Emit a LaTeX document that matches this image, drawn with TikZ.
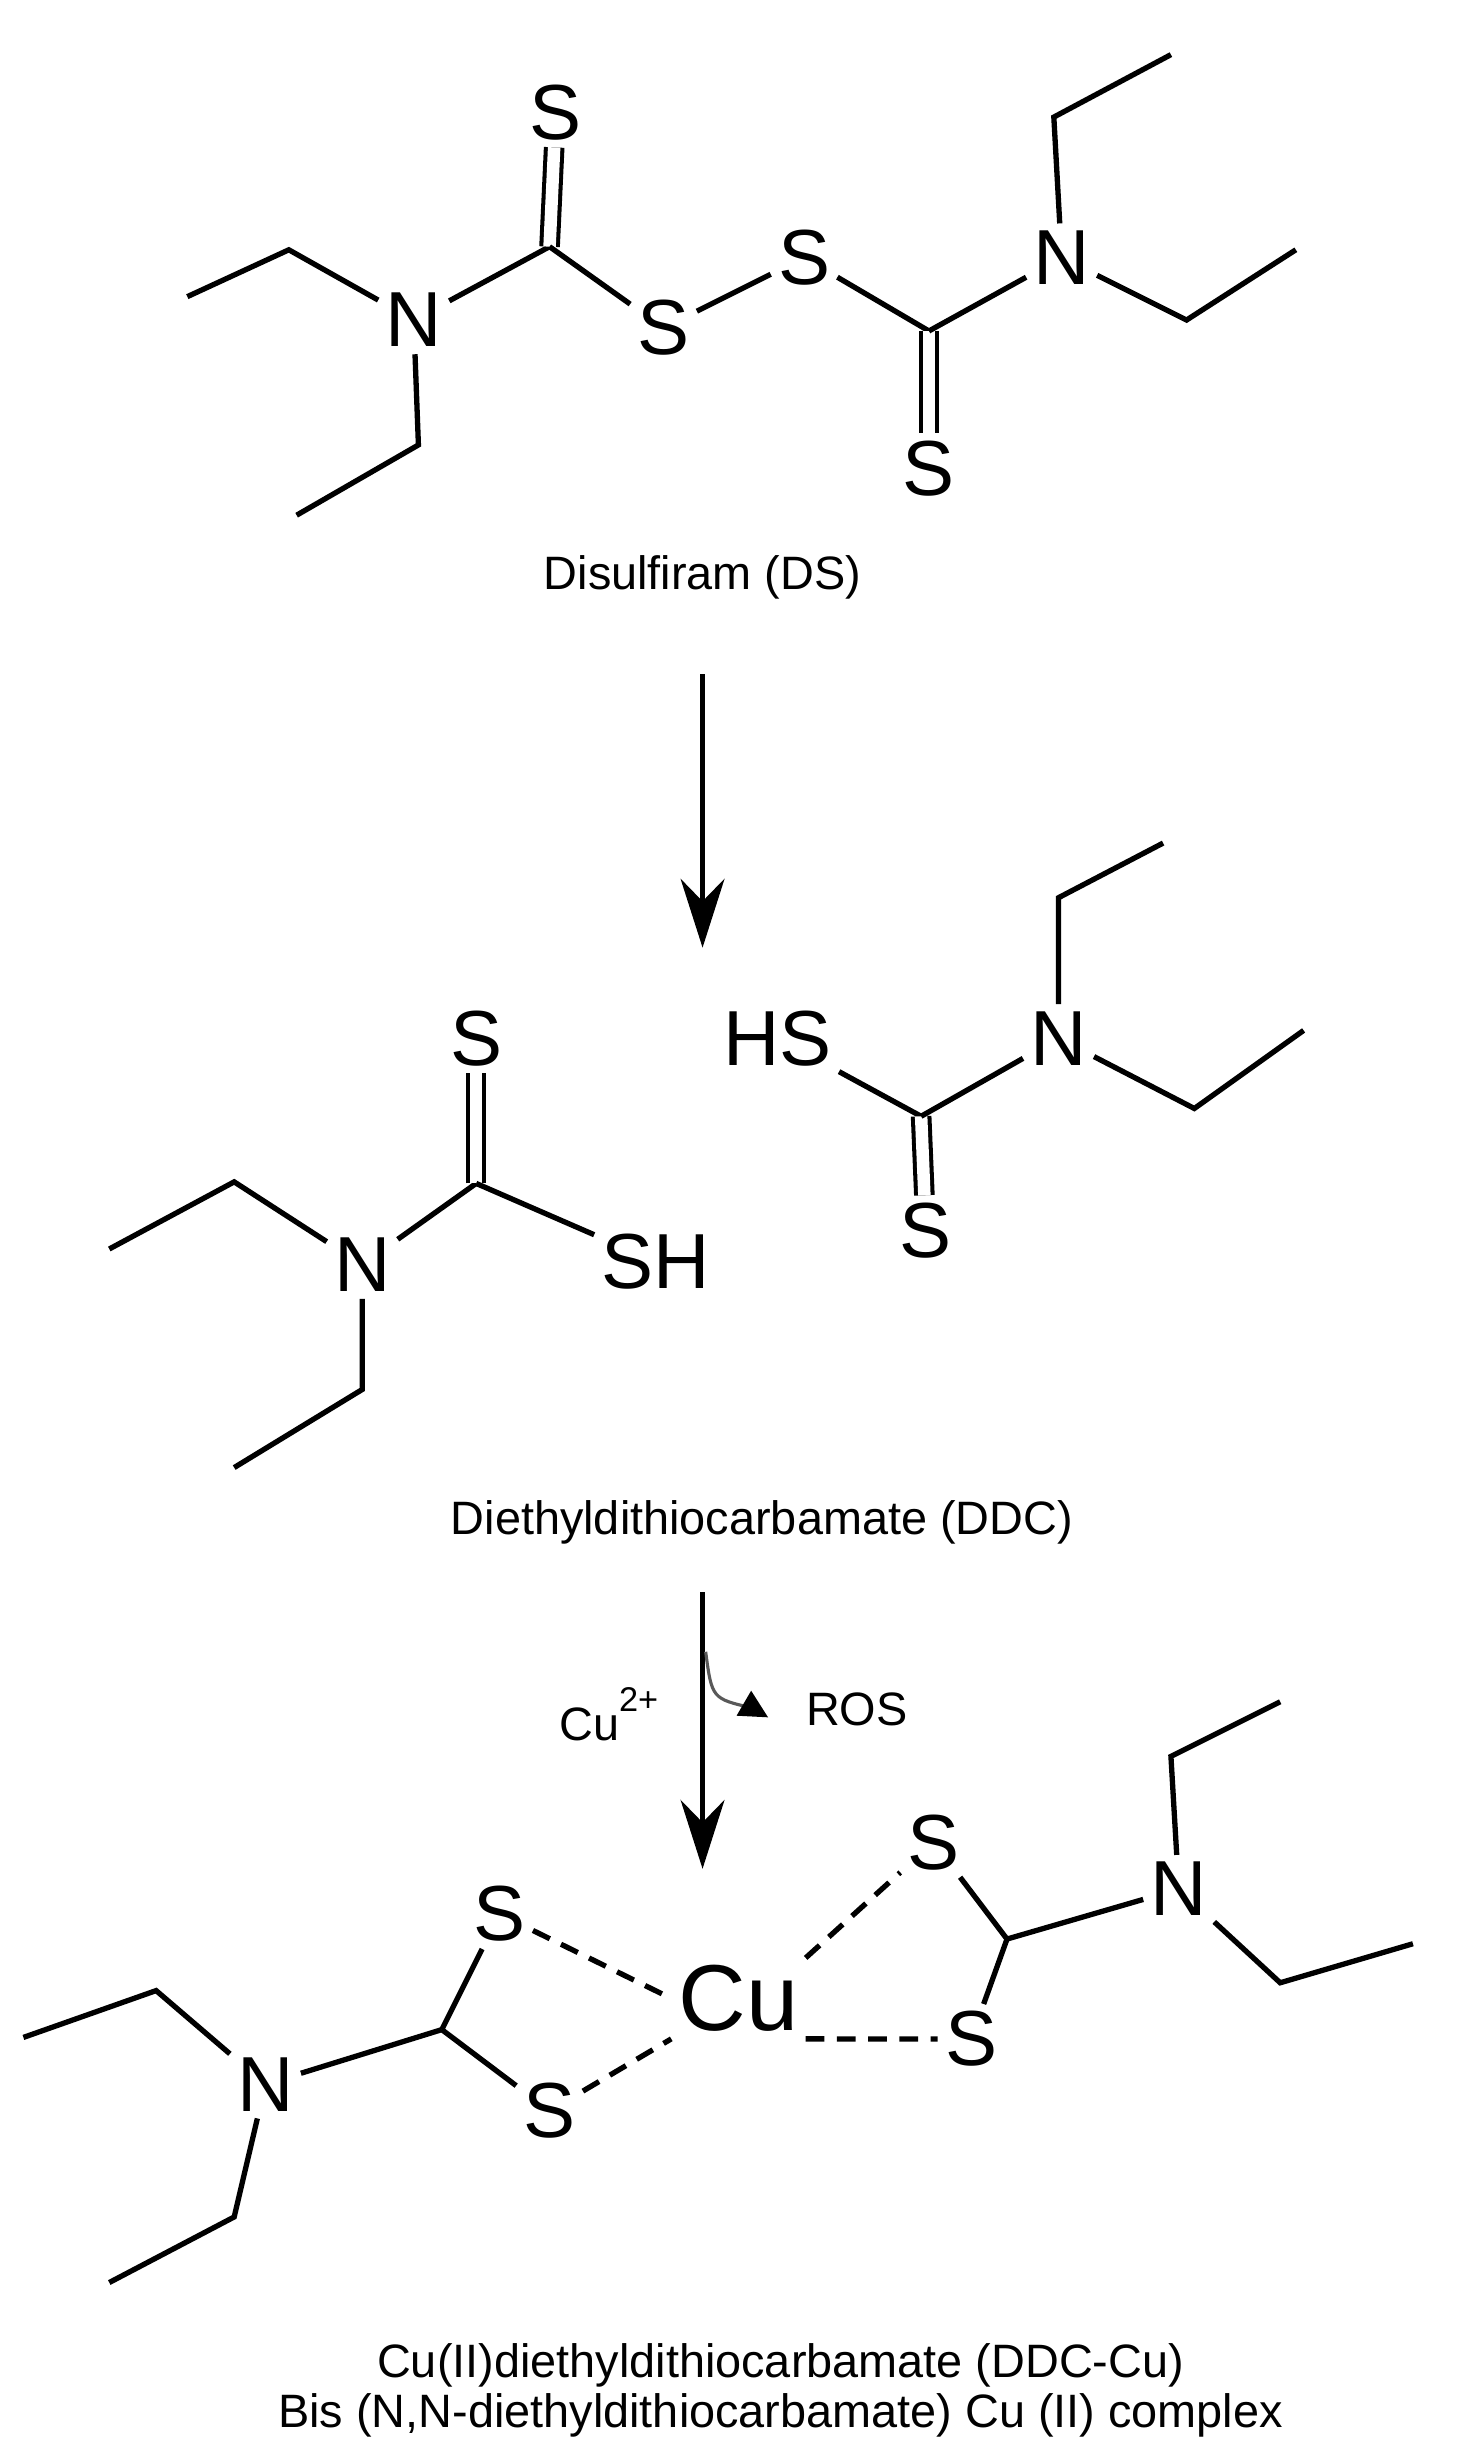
\documentclass[tikz,border=0pt]{standalone}
\usepackage{fontspec}
\setmainfont{Liberation Sans}
\usetikzlibrary{arrows.meta}
\begin{document}
\begin{tikzpicture}[x=0.5pt,y=-0.5pt,line width=1.7pt,
 atom/.style={font=\fontsize{25}{25}\selectfont,inner sep=1.5pt},
 captxt/.style={font=\fontsize{15}{16}\selectfont,align=center},
 dbl/.style={double,double distance=4pt,line width=1.3pt},
 coordb/.style={dash pattern=on 6pt off 4pt}]
\useasboundingbox (0,0) rectangle (940,1568);
% Disulfiram
\coordinate (a1) at (120,190); \coordinate (a2) at (185,160);
\node[atom] (N1) at (265,205) {N};
\coordinate (a3) at (268,285); \coordinate (a4) at (190,330);
\coordinate (C1) at (352,158);
\node[atom] (S1) at (356,72) {S};
\node[atom] (S2) at (425,210) {S};
\node[atom] (S3) at (515,165) {S};
\coordinate (C2) at (595,212);
\node[atom] (S4) at (595,300) {S};
\node[atom] (N2) at (680,165) {N};
\coordinate (b1) at (675,75); \coordinate (b2) at (750,35);
\coordinate (b3) at (760,205); \coordinate (b4) at (830,160);
\draw (a1)--(a2)--(N1); \draw (N1)--(a3)--(a4); \draw (N1)--(C1);
\draw[dbl] (C1)--(S1); \draw (C1)--(S2); \draw (S2)--(S3); \draw (S3)--(C2);
\draw[dbl] (C2)--(S4); \draw (C2)--(N2); \draw (N2)--(b1)--(b2); \draw (N2)--(b3)--(b4);
\node[captxt] (cap1) at (450,370) {Disulfiram (DS)};
\coordinate (ar1) at (450,432); \coordinate (ar1e) at (450,607);
\draw[-{Stealth[length=22pt,width=14pt]},line width=1.8pt] (ar1)--(ar1e);
% DDC left
\coordinate (c1) at (70,800); \coordinate (c2) at (150,757);
\node[atom] (N3) at (232,810) {N};
\coordinate (c3) at (232,890); \coordinate (c4) at (150,940);
\coordinate (C3) at (305,758);
\node[atom] (S5) at (305,665) {S};
\node[atom] (SH) at (420,808) {SH};
\draw (c1)--(c2)--(N3); \draw (N3)--(c3)--(c4); \draw (N3)--(C3);
\draw[dbl] (C3)--(S5); \draw (C3)--(SH);
% DDC right
\node[atom] (HS) at (498,665) {HS};
\coordinate (C4) at (590,715);
\node[atom] (S6) at (593,788) {S};
\node[atom] (N4) at (678,665) {N};
\coordinate (d1) at (678,575); \coordinate (d2) at (745,540);
\coordinate (d3) at (765,710); \coordinate (d4) at (835,660);
\draw (HS)--(C4); \draw[dbl] (C4)--(S6); \draw (C4)--(N4);
\draw (N4)--(d1)--(d2); \draw (N4)--(d3)--(d4);
\node[captxt] (cap2) at (488,975) {Diethyldithiocarbamate (DDC)};
\coordinate (ar2) at (450,1020); \coordinate (ar2e) at (450,1197);
\draw[-{Stealth[length=22pt,width=14pt]},line width=1.8pt] (ar2)--(ar2e);
\node[captxt,anchor=east] (cu2) at (430,1098) {Cu\raisebox{1.2ex}{\fontsize{11}{11}\selectfont 2+}};
\coordinate (r1) at (452,1058); \coordinate (r2) at (492,1100);
\draw[gray!70!black,line width=1pt] (r1) .. controls (456,1088) .. (482,1094);
\draw[black,line width=1pt,-{Triangle[length=9pt,width=9pt]}] (480,1093)--(r2);
\node[captxt,anchor=west] (ros) at (508,1095) {ROS};
% Complex
\node[atom,font=\fontsize{30}{30}\selectfont] (Cu) at (473,1280) {Cu};
\node[atom] (S7) at (320,1226) {S};
\node[atom] (S8) at (352,1352) {S};
\coordinate (C5) at (283,1300);
\node[atom] (N5) at (170,1335) {N};
\coordinate (e1) at (15,1305); \coordinate (e2) at (100,1275);
\coordinate (e3) at (150,1420); \coordinate (e4) at (70,1462);
\draw (S7)--(C5); \draw (C5)--(S8); \draw (C5)--(N5);
\draw (N5)--(e2)--(e1); \draw (N5)--(e3)--(e4);
\draw[coordb] (S7)--(Cu.west); \draw[coordb] (S8)--(Cu.south west);
\node[atom] (S9) at (598,1180) {S};
\node[atom] (S10) at (622,1306) {S};
\coordinate (C6) at (645,1242);
\node[atom] (N6) at (755,1210) {N};
\coordinate (f1) at (750,1125); \coordinate (f2) at (820,1090);
\coordinate (f3) at (820,1270); \coordinate (f4) at (905,1245);
\draw (S9)--(C6); \draw (C6)--(S10); \draw (C6)--(N6);
\draw (N6)--(f1)--(f2); \draw (N6)--(f3)--(f4);
\draw[coordb] (Cu.north east)--(S9); \draw[coordb] (Cu.south east)--(S10);
\node[captxt] (cap3) at (500,1531) {Cu(II)diethyldithiocarbamate (DDC-Cu)\\Bis (N,N-diethyldithiocarbamate) Cu (II) complex};
\end{tikzpicture}
\end{document}
